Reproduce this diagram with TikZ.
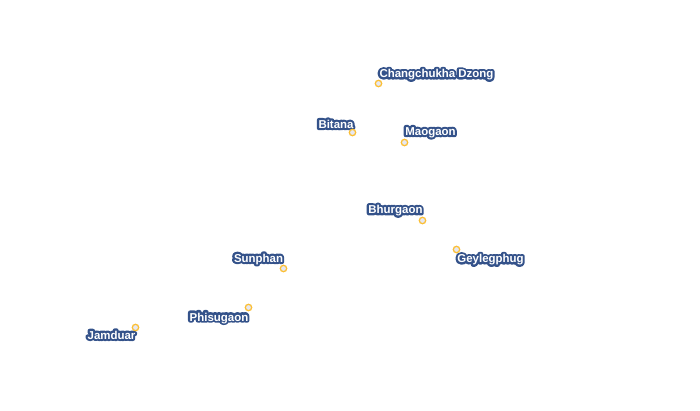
\documentclass[tikz,border=0pt]{standalone}
\usepackage{fontspec}
\setmainfont{Liberation Sans}
\definecolor{halo}{HTML}{34528A}
\definecolor{ring}{HTML}{FBBF35}
\definecolor{dotfill}{HTML}{E6E8F2}
\newcommand{\halotext}[1]{\rlap{\kern-0.3pt\raisebox{0.6pt}{\color{halo}\special{pdf:code q 1 j 1 J 4.4 w 1 Tr}#1\special{pdf:code Q}}}{\color{white}#1}}
\tikzstyle{town} = [circle, draw=ring, fill=dotfill, line width=1.3pt, inner sep=0pt, minimum size=6.4pt]
\tikzstyle{place} = [inner sep=0pt, font=\fontsize{11.45}{14}\selectfont\bfseries]

\begin{document}
\begin{tikzpicture}[x=1pt, y=-1pt]
        \useasboundingbox (0,0) rectangle (700,410);
        \node (changchukha_label) [place] at (436.5,74.7) {\halotext{Changchukha Dzong}};
        \node (bitana_label) [place] at (336,124.2) {\halotext{Bitana}};
        \node (maogaon_label) [place] at (430.5,132.6) {\halotext{Maogaon}};
        \node (bhurgaon_label) [place] at (395.5,210.6) {\halotext{Bhurgaon}};
        \node (geylegphug_label) [place] at (490.5,259.7) {\halotext{Geylegphug}};
        \node (sunphan_label) [place] at (258.5,259.2) {\halotext{Sunphan}};
        \node (phisugaon_label) [place] at (219,317.8) {\halotext{Phisugaon}};
        \node (jamduar_label) [place] at (111.5,335) {\halotext{Jamduar}};

        \node (changchukha) [town] at (378.5,83.5) {};
        \node (bitana) [town] at (352.5,132.5) {};
        \node (maogaon) [town] at (404.5,142.5) {};
        \node (bhurgaon) [town] at (422.5,220.5) {};
        \node (geylegphug) [town] at (456.5,249.5) {};
        \node (sunphan) [town] at (283.5,268.5) {};
        \node (phisugaon) [town] at (248.5,307.5) {};
        \node (jamduar) [town] at (135.5,327.5) {};
    \end{tikzpicture}
\end{document}
